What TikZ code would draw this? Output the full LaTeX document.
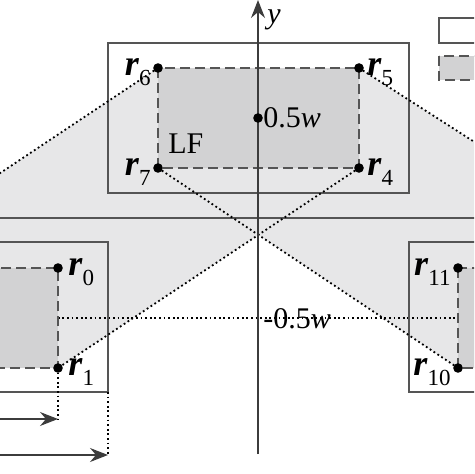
\documentclass[tikz,border=0pt]{standalone}
\usepackage{fontspec}
\setmainfont{Liberation Serif}
\usetikzlibrary{arrows.meta}
\definecolor{lg}{RGB}{231,231,232}
\definecolor{dg}{RGB}{210,210,211}
\definecolor{ln}{RGB}{85,85,85}
\newcommand{\rr}[1]{{\fontsize{18}{18}\selectfont\textbf{\textit{r}}}\raisebox{-0.7ex}{\fontsize{11.5}{12}\selectfont #1}}
\begin{document}
\begin{tikzpicture}[x=0.5pt,y=-0.5pt,
  box/.style={draw=ln, line width=0.7pt},
  dbox/.style={draw=ln, fill=dg, line width=0.8pt, dash pattern=on 5pt off 2.5pt},
  dotl/.style={line width=0.9pt, dash pattern=on 0.9pt off 1.4pt},
  axl/.style={draw=ln!70!black, line width=0.7pt},
  arr/.style={axl, -{Stealth[length=9pt,width=7pt,inset=3pt]}},
  lbl/.style={font=\fontsize{15}{17}\selectfont, inner sep=1pt},
  dot/.style={fill=black}]
\useasboundingbox (0,0) rectangle (474,474);
\clip (0,0) rectangle (474,474);
% key points
\coordinate (r6) at (158,68);
\coordinate (r5) at (359,68);
\coordinate (r7) at (158,168);
\coordinate (r4) at (359,168);
\coordinate (r0) at (58,268);
\coordinate (r1) at (58,368);
\coordinate (r11) at (458,268);
\coordinate (r10) at (458,368);
\coordinate (c0) at (258,118);
\coordinate (eL) at (-2,174.5);
\coordinate (eR) at (476,143);
\coordinate (x) at (intersection of r7--r10 and r4--r1);
% light grey region
\fill[lg] (eL) -- (r6) -- (r5) -- (eR) -- (476,368) -- (r10) -- (x) -- (r1) -- (-2,368) -- cycle;
% horizontal lines
\coordinate (hl) at (-2,218);
\coordinate (hr) at (476,218);
\draw[box] (hl) -- (hr);
\coordinate (ml) at (-2,318);
\coordinate (mr) at (476,318);
\draw[dotl] (ml) -- (mr);
% boxes
\draw[box] (108,43) rectangle (409,193);
\draw[dbox] (r6) rectangle (r4);
\draw[box] (-10,242) rectangle (108,392);
\draw[dbox] (-10,268) rectangle (r1);
\draw[box] (409,242) rectangle (490,392);
\draw[dbox] (r11) rectangle (490,368);
% legend
\draw[box] (439,18) rectangle (490,43);
\draw[dbox] (439,56) rectangle (490,80);
% dotted projections
\draw[dotl] (r6) -- (eL);
\draw[dotl] (r5) -- (eR);
\draw[dotl] (r7) -- (r10);
\draw[dotl] (r4) -- (r1);
% bottom arrows
\coordinate (a1s) at (-2,419);
\coordinate (a1e) at (58,419);
\coordinate (a2s) at (-2,455);
\coordinate (a2e) at (108,455);
\coordinate (bc) at (108,392);
\draw[dotl] (r1) -- (a1e);
\draw[dotl] (bc) -- (a2e);
\draw[arr] (a1s) -- (a1e);
\draw[arr] (a2s) -- (a2e);
% axis
\coordinate (ab) at (258,454);
\coordinate (at) at (258,0);
\draw[arr] (ab) -- (at);
\node[lbl, anchor=west] (ylab) at (265,20) {\textit{y}};
% points
\foreach \p in {r6,r5,r7,r4,r0,r1,r11,r10,c0} \fill[dot] (\p) circle (2.4pt);
% labels
\node[lbl, anchor=east] (l6) at (153,72) {\rr{6}};
\node[lbl, anchor=east] (l7) at (153,172) {\rr{7}};
\node[lbl, anchor=west] (l5) at (365,72) {\rr{5}};
\node[lbl, anchor=west] (l4) at (365,172) {\rr{4}};
\node[lbl, anchor=west] (l0) at (66,272) {\rr{0}};
\node[lbl, anchor=west] (l1) at (66,372) {\rr{1}};
\node[lbl, anchor=east] (l11) at (453,272) {\rr{11}};
\node[lbl, anchor=east] (l10) at (453,372) {\rr{10}};
\node[lbl, anchor=west] (lw) at (261,118) {0.5\textit{w}};
\node[lbl, anchor=west] (lmw) at (261,319) {-0.5\textit{w}};
\node[lbl, anchor=west] (lf) at (166,144) {LF};
\end{tikzpicture}
\end{document}
